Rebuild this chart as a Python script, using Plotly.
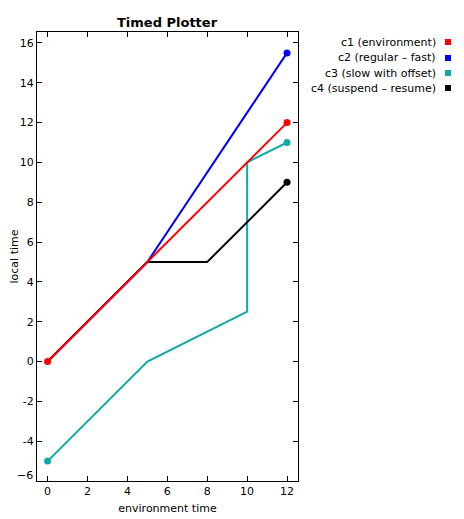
import plotly.graph_objects as go

# series data (environment time -> local time)
names = ["c1 (environment)", "c2 (regular - fast)", "c3 (slow with offset)", "c4 (suspend - resume)"]
colors = ["#ff0000", "#0000ff", "#10aaaa", "#000000"]

c1_x = [0, 12]
c1_y = [0, 12]
c2_x = [0, 5, 12]
c2_y = [0, 5, 15.5]
c3_x = [0, 5, 10, 10, 12]
c3_y = [-5, 0, 2.5, 10, 11]
c4_x = [0, 5, 8, 12]
c4_y = [0, 5, 5, 9]

xs = [c1_x, c2_x, c3_x, c4_x]
ys = [c1_y, c2_y, c3_y, c4_y]

x_ticks = [0, 2, 4, 6, 8, 10, 12]
y_ticks = [-6, -4, -2, 0, 2, 4, 6, 8, 10, 12, 14, 16]

# the page body adds an 8px margin, so everything is laid out 8px up/left
OFF = 8
W, H = 464 - OFF, 519 - OFF
L, R, T, B = 37 - OFF, 298 - OFF, 32 - OFF, 481 - OFF

fig = go.Figure()

# draw c1 last so it sits on top, like the reference
for i in [1, 2, 3, 0]:
    n = len(xs[i])
    sizes = [0] * n
    sizes[-1] = 7
    if i in (0, 2):
        sizes[0] = 7
    fig.add_trace(
        go.Scatter(
            x=xs[i],
            y=ys[i],
            mode="lines+markers",
            name=names[i],
            line=dict(color=colors[i], width=2),
            marker=dict(color=colors[i], size=sizes, opacity=1, line=dict(width=0)),
            showlegend=False,
            cliponaxis=False,
        )
    )

tick_font = dict(family="DejaVu Sans", size=11, color="black")

axis_common = dict(
    showgrid=False,
    zeroline=False,
    showline=True,
    linecolor="black",
    linewidth=1,
    mirror="allticks",
    ticks="inside",
    ticklen=5,
    tickcolor="black",
    automargin=False,
    tickfont=tick_font,
)

fig.update_xaxes(
    range=[-0.53, 12.55],
    tickvals=x_ticks,
    title=dict(text="environment time", font=tick_font, standoff=7),
    **axis_common,
)
# the lowest label sits a little above the axis bottom in the reference
fig.update_yaxes(
    range=[-6, 16.55],
    tickvals=y_ticks,
    ticktext=[""] + [str(v) for v in y_ticks[1:]],
    title=dict(text="local time", font=tick_font, standoff=1),
    **axis_common,
)
fig.add_annotation(
    x=0, y=y_ticks[0], xref="paper", yref="y",
    text=str(y_ticks[0]).replace("-", "−"), showarrow=False,
    xanchor="right", yanchor="middle", xshift=-2, yshift=6,
    font=tick_font,
)

# legend on the right: text right-aligned with a colour square after it
pw = R - L
ph = B - T
legend_rows = [42 - OFF, 58 - OFF, 73 - OFF, 88 - OFF]
for name, color, py in zip(names, colors, legend_rows):
    fig.add_annotation(
        x=(438 - OFF - L) / pw,
        y=(B - py) / ph,
        xref="paper",
        yref="paper",
        text=name.replace(" - ", " – "),
        showarrow=False,
        xanchor="right",
        yanchor="middle",
        font=tick_font,
    )
    fig.add_shape(
        type="rect",
        xref="paper",
        yref="paper",
        x0=(445 - OFF - L) / pw,
        x1=(451 - OFF - L) / pw,
        y0=(B - py - 3) / ph,
        y1=(B - py + 3) / ph,
        fillcolor=color,
        line=dict(width=0),
    )

fig.update_layout(
    width=W,
    height=H,
    title=dict(
        text="<b>Timed Plotter</b>",
        x=(167 - OFF) / W,
        xanchor="center",
        y=1 - (22 - OFF) / H,
        yanchor="middle",
        automargin=False,
        font=dict(family="DejaVu Sans", size=13, color="black"),
    ),
    plot_bgcolor="white",
    paper_bgcolor="white",
    showlegend=False,
    margin=dict(l=L, r=W - R, t=T, b=H - B, autoexpand=False),
)

fig.write_html("out.html")
